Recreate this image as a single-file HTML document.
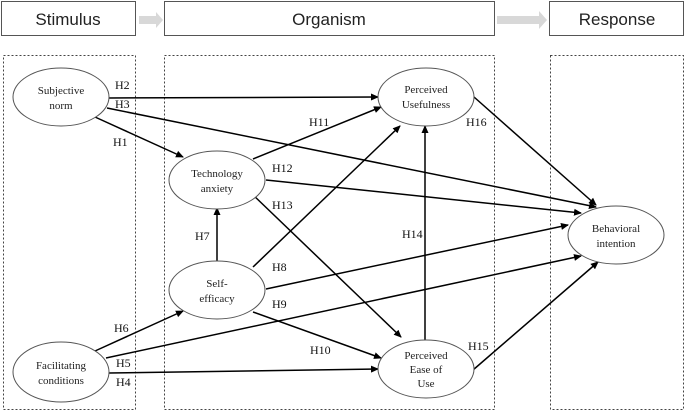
<!DOCTYPE html>
<html><head><meta charset="utf-8"><style>
html,body{margin:0;padding:0;background:#fff;}
svg{display:block;}
</style></head><body>
<svg width="685" height="411" viewBox="0 0 685 411" xmlns="http://www.w3.org/2000/svg">
<defs>
<marker id="a" markerWidth="8" markerHeight="8" refX="7" refY="4" orient="auto" markerUnits="userSpaceOnUse">
<path d="M0,0.5 L8,4 L0,7.5 z" fill="#000"/>
</marker>
</defs>
<g fill="#fff" stroke="#555" stroke-width="1">
<rect x="1.5" y="1.5" width="134" height="34"/>
<rect x="164.5" y="1.5" width="330" height="34"/>
<rect x="549.5" y="1.5" width="134" height="34"/>
</g>
<g fill="#d8d8d8">
<path d="M139,16 L156,16 L156,12 L163,20 L156,28 L156,24 L139,24 z"/>
<path d="M497,16 L539,16 L539,11 L547,20 L539,29 L539,24 L497,24 z"/>
</g>
<g font-family="'Liberation Sans',sans-serif" font-size="17" text-anchor="middle" fill="#222">
<text x="68" y="25">Stimulus</text>
<text x="329" y="25">Organism</text>
<text x="617" y="25">Response</text>
</g>
<g fill="none" stroke="#444" stroke-dasharray="2,2" stroke-width="1">
<rect x="3.5" y="55.5" width="132" height="354"/>
<rect x="164.5" y="55.5" width="330" height="354"/>
<rect x="550.5" y="55.5" width="133" height="354"/>
</g>
<g stroke="#000" stroke-width="1.5" fill="none" marker-end="url(#a)">
<line x1="109" y1="98" x2="378" y2="97"/>
<line x1="107" y1="108" x2="596" y2="207"/>
<line x1="95" y1="117" x2="183" y2="157"/>
<line x1="253" y1="159" x2="381" y2="107"/>
<line x1="266" y1="180" x2="581" y2="213"/>
<line x1="251" y1="193" x2="401" y2="337"/>
<line x1="217" y1="262" x2="217" y2="208"/>
<line x1="253" y1="267" x2="400" y2="126"/>
<line x1="266" y1="289" x2="568" y2="225"/>
<line x1="253" y1="312" x2="381" y2="358"/>
<line x1="425" y1="340" x2="425" y2="126"/>
<line x1="473" y1="370" x2="598" y2="262"/>
<line x1="474" y1="97" x2="596" y2="205"/>
<line x1="95" y1="351" x2="183" y2="311"/>
<line x1="106" y1="358" x2="581" y2="256"/>
<line x1="109" y1="373" x2="378" y2="369"/>
</g>
<g fill="#fff" stroke="#555" stroke-width="1">
<ellipse cx="61" cy="97" rx="48" ry="29"/>
<ellipse cx="426" cy="97" rx="48" ry="29"/>
<ellipse cx="217" cy="180" rx="48" ry="29"/>
<ellipse cx="217" cy="290" rx="48" ry="29"/>
<ellipse cx="61" cy="372" rx="48" ry="30"/>
<ellipse cx="426" cy="369" rx="48" ry="29"/>
<ellipse cx="616" cy="235" rx="48" ry="29"/>
</g>
<g font-family="'Liberation Serif',serif" font-size="11" text-anchor="middle" fill="#222">
<text x="61" y="94">Subjective</text><text x="61" y="109">norm</text>
<text x="426" y="93">Perceived</text><text x="426" y="108">Usefulness</text>
<text x="217" y="177">Technology</text><text x="217" y="192">anxiety</text>
<text x="217" y="287">Self-</text><text x="217" y="302">efficacy</text>
<text x="61" y="369">Facilitating</text><text x="61" y="384">conditions</text>
<text x="426" y="359">Perceived</text><text x="426" y="373">Ease of</text><text x="426" y="387">Use</text>
<text x="616" y="232">Behavioral</text><text x="616" y="247">intention</text>
</g>
<g font-family="'Liberation Serif',serif" font-size="12" fill="#111">
<text x="115" y="89">H2</text>
<text x="115" y="108">H3</text>
<text x="113" y="146">H1</text>
<text x="309" y="126">H11</text>
<text x="272" y="172">H12</text>
<text x="272" y="209">H13</text>
<text x="195" y="240">H7</text>
<text x="272" y="271">H8</text>
<text x="272" y="308">H9</text>
<text x="114" y="332">H6</text>
<text x="116" y="367">H5</text>
<text x="116" y="386">H4</text>
<text x="310" y="354">H10</text>
<text x="402" y="238">H14</text>
<text x="468" y="350">H15</text>
<text x="466" y="126">H16</text>
</g>
</svg>
</body></html>
